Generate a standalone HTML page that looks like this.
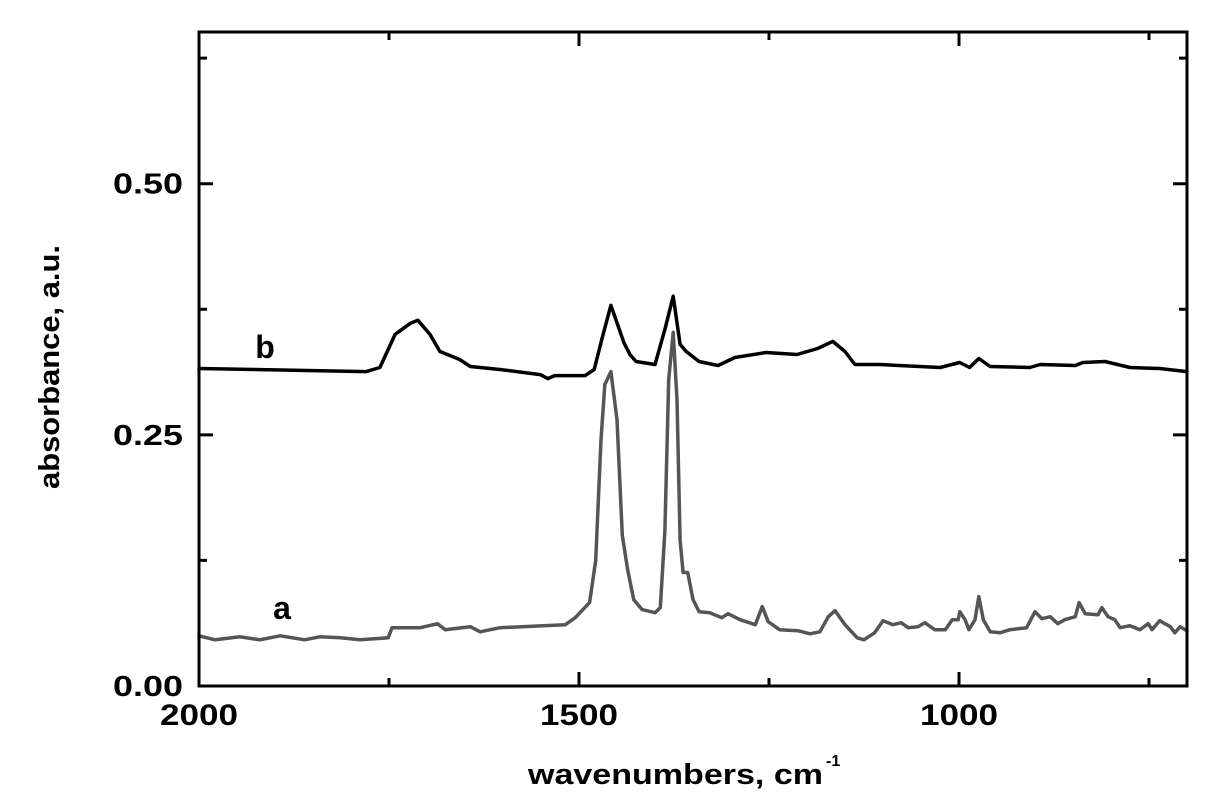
<!DOCTYPE html>
<html><head><meta charset="utf-8"><style>
html,body{margin:0;padding:0;background:#fff}
svg{display:block}
text{font-family:"Liberation Sans",Arial,sans-serif}
</style></head><body>
<svg id="chart" width="1227" height="795" viewBox="0 0 1227 795" xmlns="http://www.w3.org/2000/svg">
<g id="plot"></g>
</svg>
<script>
const xTicksMajor=[2000,1500,1000];
const xTicksMinor=[1750,1250,750];
const yTicksMajor=[0,0.25,0.5];
const yTickLabels=["0.00","0.25","0.50"];
const yTicksMinor=[0.125,0.375,0.625];
const waveB=[2000,1780,1762,1742,1722,1712,1696,1683,1657,1643,1604,1551,1541,1532,1492,1480,1470,1458,1447,1441,1433,1425,1400,1387,1376,1367,1359,1342,1317,1295,1254,1213,1186,1166,1150,1137,1104,1025,999,986,974,959,907,893,847,837,808,775,736,700];
const absB=[0.316,0.313,0.317,0.350,0.361,0.364,0.350,0.333,0.325,0.318,0.315,0.310,0.306,0.309,0.309,0.315,0.345,0.379,0.355,0.342,0.330,0.323,0.320,0.355,0.388,0.340,0.333,0.323,0.319,0.327,0.332,0.330,0.336,0.343,0.333,0.320,0.320,0.317,0.322,0.317,0.326,0.318,0.317,0.320,0.319,0.322,0.323,0.317,0.316,0.313];
const waveA=[2000,1979,1946,1920,1893,1861,1841,1814,1788,1751,1746,1709,1686,1676,1643,1630,1604,1518,1505,1486,1478,1471,1466,1458,1450,1443,1436,1428,1417,1400,1393,1387,1382,1376,1371,1367,1363,1357,1350,1342,1328,1312,1304,1288,1268,1259,1251,1236,1212,1196,1183,1172,1163,1150,1134,1125,1111,1100,1087,1076,1067,1054,1045,1032,1018,1009,1001,999,992,987,979,974,968,959,946,933,911,900,891,880,870,861,847,842,834,817,812,804,795,788,775,762,751,746,736,722,716,709,700];
const absA=[0.050,0.046,0.049,0.046,0.050,0.046,0.049,0.048,0.046,0.048,0.058,0.058,0.062,0.056,0.059,0.054,0.058,0.061,0.068,0.083,0.125,0.245,0.300,0.313,0.265,0.150,0.116,0.086,0.076,0.073,0.078,0.155,0.305,0.352,0.285,0.145,0.113,0.113,0.086,0.074,0.073,0.068,0.072,0.066,0.061,0.079,0.064,0.056,0.055,0.052,0.054,0.069,0.075,0.061,0.048,0.046,0.053,0.065,0.061,0.063,0.058,0.059,0.063,0.056,0.056,0.066,0.066,0.074,0.066,0.056,0.066,0.089,0.066,0.054,0.053,0.056,0.058,0.074,0.067,0.069,0.062,0.066,0.069,0.083,0.072,0.071,0.078,0.069,0.066,0.058,0.060,0.056,0.062,0.056,0.065,0.059,0.053,0.059,0.055];

const L=199,R=1187,T=32,B=686;
const X0=2000,X1=700,Y0=0,Y1=0.651;
const sx=w=>L+(X0-w)/(X0-X1)*(R-L);
const sy=v=>B-(v-Y0)/(Y1-Y0)*(B-T);
const NS="http://www.w3.org/2000/svg";
const g=document.getElementById('plot');
function mk(tag,attrs){const e=document.createElementNS(NS,tag);for(const k in attrs)e.setAttribute(k,attrs[k]);g.appendChild(e);return e;}

function series(w,a,color,name){
  let d='';
  for(let i=0;i<w.length;i++){d+=(i?'L':'M')+sx(w[i]).toFixed(1)+' '+sy(a[i]).toFixed(1);}
  const p=mk('path',{d:d,fill:'none',stroke:color,'stroke-width':3.5,'stroke-linejoin':'round','stroke-linecap':'round'});
  
  
}
series(waveA,absA,'#555555','series-a-line');
series(waveB,absB,'#000000','series-b-line');

const frame=mk('rect',{x:L,y:T,width:R-L,height:B-T,fill:'none',stroke:'#000','stroke-width':3});



xTicksMajor.forEach(w=>{
  const x=sx(w);
  const t=mk('path',{d:`M${x} ${B}V${B-14}M${x} ${T}V${T+14}`,stroke:'#000','stroke-width':3});
  
  
  const lb=mk('text',{x:x,y:725,'text-anchor':'middle','font-size':30,'font-weight':'bold',textLength:78,lengthAdjust:'spacingAndGlyphs'});
  lb.textContent=String(w);
  
  
});
xTicksMinor.forEach(w=>{
  const x=sx(w);
  const t=mk('path',{d:`M${x} ${B}V${B-8}M${x} ${T}V${T+8}`,stroke:'#000','stroke-width':3});
  
  
});
yTicksMajor.forEach((v,i)=>{
  const y=sy(v);
  const t=mk('path',{d:`M${L} ${y}H${L+14}M${R} ${y}H${R-14}`,stroke:'#000','stroke-width':3});
  
  
  const lb=mk('text',{x:183,y:y+10,'text-anchor':'end','font-size':29,'font-weight':'bold',textLength:70,lengthAdjust:'spacingAndGlyphs'});
  lb.textContent=yTickLabels[i];
  
  
});
yTicksMinor.forEach(v=>{
  const y=sy(v);
  const t=mk('path',{d:`M${L} ${y}H${L+8}M${R} ${y}H${R-8}`,stroke:'#000','stroke-width':3});
  
  
});

const la=mk('text',{x:282,y:619,'text-anchor':'middle','font-size':32,'font-weight':'bold'});
la.textContent='a';


const lbb=mk('text',{x:265,y:358,'text-anchor':'middle','font-size':32,'font-weight':'bold'});
lbb.textContent='b';



const xt=mk('text',{x:528,y:784,'font-size':29,'font-weight':'bold',textLength:295,lengthAdjust:'spacingAndGlyphs'});
xt.textContent='wavenumbers, cm';


const xs=mk('text',{x:826,y:766,'font-size':16,'font-weight':'bold'});
xs.textContent='-1';



const yt=mk('text',{x:0,y:0,'text-anchor':'middle','font-size':29,'font-weight':'bold',textLength:244,lengthAdjust:'spacingAndGlyphs',transform:'translate(59,367) rotate(-90)'});
yt.textContent='absorbance, a.u.';


</script>
</body></html>
